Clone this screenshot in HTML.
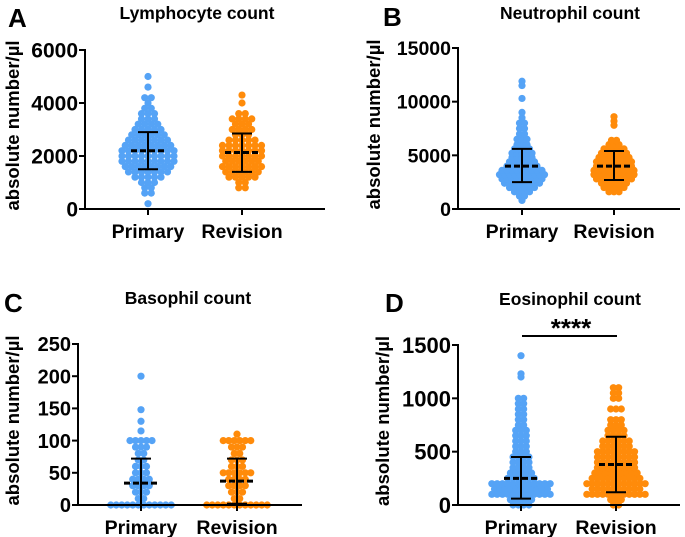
<!DOCTYPE html>
<html><head><meta charset="utf-8"><style>
body{margin:0;background:#fff}
svg{display:block;font-family:"Liberation Sans",Arial,sans-serif;font-weight:bold}
</style></head><body>
<svg id="c" width="685" height="537" viewBox="0 0 685 537"></svg>
<script>
// Data: [value, count] bins
const lymphPrimary=[[200,1],[600,2],[800,2],[1000,3],[1200,5],[1400,7],[1600,8],[1800,9],[2000,9],[2200,9],[2400,8],[2600,7],[2800,6],[3000,5],[3200,4],[3400,3],[3600,3],[3800,2],[4000,1],[4200,2],[4600,1],[5000,1]];
const lymphRevision=[[800,2],[1000,2],[1200,5],[1400,6],[1600,7],[1800,6],[2000,7],[2200,7],[2400,7],[2600,5],[2800,3],[3000,4],[3200,3],[3400,4],[3600,2],[4000,1],[4300,1]];
const lymphStats=[[2200,1500,2900],[2130,1400,2850]];
const neutPrimary=[[800,1],[1200,2],[1600,4],[2000,6],[2400,8],[2800,9],[3200,10],[3600,9],[4000,7],[4400,6],[4800,5],[5200,5],[5600,4],[6000,3],[6500,3],[7000,2],[7500,2],[8000,2],[8500,1],[9000,1],[10300,1],[11500,1],[11900,1]];
const neutRevision=[[1600,3],[2000,5],[2400,6],[2800,8],[3200,9],[3600,9],[4000,8],[4400,8],[4800,7],[5200,6],[5600,5],[6000,3],[6400,2],[7800,1],[8200,1],[8600,1]];
const neutStats=[[4000,2500,5600],[4000,2700,5400]];
const basoPrimary=[[0,12],[10,2],[20,3],[30,4],[40,4],[50,3],[60,3],[70,2],[80,2],[90,3],[100,5],[115,1],[130,1],[148,1],[200,1]];
const basoRevision=[[0,12],[10,2],[20,3],[30,4],[40,4],[50,6],[60,3],[70,3],[80,2],[90,3],[100,6],[110,1]];
const basoStats=[[34,0,72],[37,2,72]];
const eosPrimary=[[0,4],[50,5],[100,12],[150,11],[200,12],[250,6],[300,5],[350,4],[400,4],[450,4],[500,3],[550,3],[600,3],[650,3],[700,3],[750,2],[800,2],[850,2],[900,2],[950,2],[1000,2],[1200,1],[1230,1],[1400,1]];
const eosRevision=[[0,2],[50,3],[100,12],[150,10],[200,12],[250,10],[300,9],[350,8],[400,8],[450,8],[500,8],[550,6],[600,6],[650,4],[700,4],[750,3],[800,3],[900,3],[1000,2],[1050,2],[1100,2]];
const eosStats=[[250,60,450],[380,120,640]];
const categories=["Primary","Revision"];
const lymphTicks=[0,2000,4000,6000];
const neutTicks=[0,5000,10000,15000];
const basoTicks=[0,50,100,150,200,250];
const eosTicks=[0,500,1000,1500];

const NS="http://www.w3.org/2000/svg";
const svg=document.getElementById('c');
function mk(tag,attrs,parent,text){const e=document.createElementNS(NS,tag);for(const k in attrs)e.setAttribute(k,attrs[k]);if(text!==undefined)e.textContent=text;(parent||svg).appendChild(e);return e;}
const colors=["#55a3f6","#ff8b0a"];
function panel(o){
  const g=mk('g',{});
  
  
  const y=v=>o.y0-(v/o.max)*(o.y0-o.y1);
  const t=mk('text',{x:o.tx,y:o.ty,'text-anchor':'middle','font-size':17.5},g,o.title);
  
  const l=mk('text',{x:o.lx,y:o.ly,'font-size':26},g,o.letter);
  
  const yt=mk('text',{x:0,y:0,'text-anchor':'middle','font-size':18.5,transform:`translate(${o.ytx},${(o.y0+o.y1)/2-4}) rotate(-90)`},g,'absolute number/µl');
  
  [o.a,o.b].forEach((bins,ci)=>{
    const cx=o.cx[ci];
    bins.forEach(([v,n])=>{
      for(let i=0;i<n;i++){
        const dx=(i-(n-1)/2)*o.sp;
        const d=mk('circle',{cx:cx+dx,cy:y(v),r:3.6,fill:colors[ci]},g);
        
        
      }
    });
  });
  o.stats.forEach(([m,lo,hi],ci)=>{
    const cx=o.cx[ci];
    const s=mk('g',{stroke:'#000','stroke-width':2},g);
    
    mk('line',{x1:cx,x2:cx,y1:y(lo),y2:y(hi)},s);
    mk('line',{x1:cx-10,x2:cx+10,y1:y(lo),y2:y(lo)},s);
    mk('line',{x1:cx-10,x2:cx+10,y1:y(hi),y2:y(hi)},s);
    const ml=mk('line',{x1:cx-17,x2:cx+17,y1:y(m),y2:y(m),'stroke-width':3,'stroke-dasharray':'6,3'},g);
    ml.setAttribute('stroke','#000');
    
  });
  const ax=mk('g',{stroke:'#000','stroke-width':2},g);
  
  mk('line',{x1:o.ax,x2:o.ax,y1:o.y1-1,y2:o.y0+1},ax);
  mk('line',{x1:o.ax-1,x2:o.axEnd,y1:o.y0,y2:o.y0},ax);
  o.ticks.forEach(v=>{
    mk('line',{x1:o.ax-6,x2:o.ax,y1:y(v),y2:y(v)},ax);
    const tl=mk('text',{x:o.ax-7,y:y(v)+o.fs*0.36,'text-anchor':'end','font-size':o.fs},g,String(v));
    
  });
  categories.forEach((c,ci)=>{
    mk('line',{x1:o.cx[ci],x2:o.cx[ci],y1:o.y0,y2:o.y0+6},ax);
    const cl=mk('text',{x:o.cx[ci],y:o.y0+29,'text-anchor':'middle','font-size':19.5},g,c);
    
  });
  return {g,y};
}
panel({name:'panel-lymphocyte',title:'Lymphocyte count',letter:'A',tx:197,ty:19,lx:8,ly:27,ax:85,axEnd:325,y0:209,y1:50,max:6000,ticks:lymphTicks,cx:[148,242],sp:6.5,fs:21,ytx:19,a:lymphPrimary,b:lymphRevision,stats:lymphStats});
panel({name:'panel-neutrophil',title:'Neutrophil count',letter:'B',tx:570,ty:19,lx:383,ly:26,ax:458,axEnd:680,y0:209,y1:48,max:15000,ticks:neutTicks,cx:[522,614],sp:5,fs:19.5,ytx:380,a:neutPrimary,b:neutRevision,stats:neutStats});
panel({name:'panel-basophil',title:'Basophil count',letter:'C',tx:188,ty:304,lx:4,ly:312,ax:78,axEnd:302,y0:505,y1:344,max:250,ticks:basoTicks,cx:[141,237],sp:5.5,fs:20,ytx:19,a:basoPrimary,b:basoRevision,stats:basoStats});
const pd=panel({name:'panel-eosinophil',title:'Eosinophil count',letter:'D',tx:570,ty:305,lx:385,ly:312,ax:458,axEnd:680,y0:505,y1:345,max:1500,ticks:eosTicks,cx:[521,616],sp:5.3,fs:22,ytx:389,a:eosPrimary,b:eosRevision,stats:eosStats});
const sig=mk('line',{x1:522,x2:617,y1:336,y2:336,stroke:'#000','stroke-width':2},pd.g);

const st=mk('text',{x:571,y:337,'text-anchor':'middle','font-size':26},pd.g,'****');

</script>
</body></html>
